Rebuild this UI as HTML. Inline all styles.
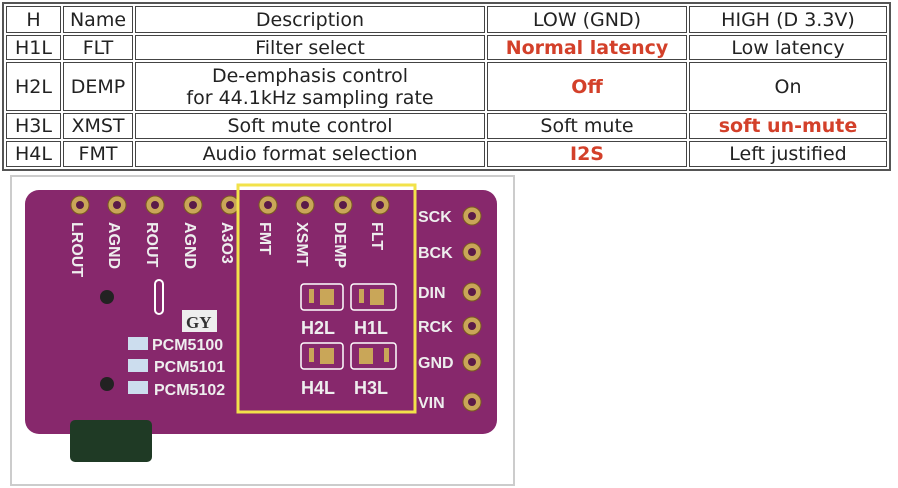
<!DOCTYPE html>
<html><head><meta charset="utf-8"><style>
body{margin:0;width:898px;height:488px;background:#fff;overflow:hidden;font-family:"DejaVu Sans","Liberation Sans",sans-serif;}
table{position:absolute;left:2px;top:2px;border-collapse:separate;border-spacing:2px;background:#fff;border:2px solid #555;}
td{border:1.5px solid #444;text-align:center;font-size:19px;color:#222;padding:0;line-height:22px;}
.r{color:#d3402a;font-weight:bold;}
.pcb{position:absolute;left:10px;top:175px;}
</style></head><body>
<table>
<tr style="height:27px"><td style="width:53px">H</td><td style="width:68px">Name</td><td style="width:348px">Description</td><td style="width:198px">LOW (GND)</td><td style="width:196px">HIGH (D 3.3V)</td></tr>
<tr style="height:25px"><td>H1L</td><td>FLT</td><td>Filter select</td><td class="r">Normal latency</td><td>Low latency</td></tr>
<tr style="height:49px"><td>H2L</td><td>DEMP</td><td>De-emphasis control<br>for 44.1kHz sampling rate</td><td class="r">Off</td><td>On</td></tr>
<tr style="height:26px"><td>H3L</td><td>XMST</td><td>Soft mute control</td><td>Soft mute</td><td class="r">soft un-mute</td></tr>
<tr style="height:26px"><td>H4L</td><td>FMT</td><td>Audio format selection</td><td class="r">I2S</td><td>Left justified</td></tr>
</table>
<svg class="pcb" width="506" height="312" viewBox="10 175 506 312">
<rect x="11" y="176" width="503" height="309" fill="#fff" stroke="#ccc" stroke-width="2"/>
<rect x="25" y="190" width="472" height="244" rx="14" fill="#87286c"/>
<rect x="70" y="420" width="82" height="42" rx="5" fill="#1f3a25"/>
<g fill="#c9a658" stroke="#7a5a20" stroke-width="1">
<circle cx="80" cy="205" r="9"/><circle cx="117" cy="205" r="9"/><circle cx="155" cy="205" r="9"/><circle cx="193" cy="205" r="9"/><circle cx="230" cy="205" r="9"/><circle cx="268" cy="205" r="9"/><circle cx="305" cy="205" r="9"/><circle cx="343" cy="205" r="9"/><circle cx="380" cy="205" r="9"/>
<circle cx="472" cy="216" r="9"/><circle cx="472" cy="252" r="9"/><circle cx="472" cy="292" r="9"/><circle cx="472" cy="326" r="9"/><circle cx="472" cy="362" r="9"/><circle cx="472" cy="402" r="9"/>
</g>
<g fill="#5a1a48"><circle cx="80" cy="205" r="4"/><circle cx="117" cy="205" r="4"/><circle cx="155" cy="205" r="4"/><circle cx="193" cy="205" r="4"/><circle cx="230" cy="205" r="4"/><circle cx="268" cy="205" r="4"/><circle cx="305" cy="205" r="4"/><circle cx="343" cy="205" r="4"/><circle cx="380" cy="205" r="4"/>
<circle cx="472" cy="216" r="4"/><circle cx="472" cy="252" r="4"/><circle cx="472" cy="292" r="4"/><circle cx="472" cy="326" r="4"/><circle cx="472" cy="362" r="4"/><circle cx="472" cy="402" r="4"/></g>
<circle cx="107" cy="297" r="7" fill="#222"/><circle cx="107" cy="384" r="7" fill="#222"/>
<rect x="155" y="280" width="8" height="34" rx="4" fill="none" stroke="#fff" stroke-width="2"/>
<g font-family="Liberation Sans,sans-serif" font-weight="bold" fill="#eee" font-size="16">
<text transform="translate(72,222) rotate(90)">LROUT</text>
<text transform="translate(109,222) rotate(90)">AGND</text>
<text transform="translate(147,222) rotate(90)">ROUT</text>
<text transform="translate(185,222) rotate(90)">AGND</text>
<text transform="translate(222,222) rotate(90)">A3O3</text>
<text transform="translate(260,222) rotate(90)">FMT</text>
<text transform="translate(297,222) rotate(90)">XSMT</text>
<text transform="translate(335,222) rotate(90)">DEMP</text>
<text transform="translate(372,222) rotate(90)">FLT</text>
<text x="418" y="222">SCK</text><text x="418" y="258">BCK</text><text x="418" y="298">DIN</text><text x="418" y="332">RCK</text><text x="418" y="368">GND</text><text x="418" y="408">VIN</text>
<text x="152" y="350">PCM5100</text><text x="154" y="372">PCM5101</text><text x="154" y="395">PCM5102</text>
<text x="301" y="334" font-size="18">H2L</text><text x="354" y="334" font-size="18">H1L</text>
<text x="301" y="394" font-size="18">H4L</text><text x="354" y="394" font-size="18">H3L</text>
</g>
<rect x="182" y="310" width="35" height="22" fill="#eee"/><text x="186" y="328" font-family="Liberation Serif,serif" font-weight="bold" font-size="17" fill="#333">GY</text>
<rect x="128" y="337" width="20" height="13" fill="#cde"/><rect x="128" y="359" width="20" height="13" fill="#cde"/><rect x="128" y="381" width="20" height="13" fill="#cde"/>
<g fill="none" stroke="#fff" stroke-width="1.5"><rect x="301" y="284" width="42" height="26" rx="3"/><rect x="351" y="284" width="45" height="26" rx="3"/><rect x="301" y="343" width="42" height="26" rx="3"/><rect x="351" y="343" width="45" height="26" rx="3"/></g>
<g fill="#c9a658"><rect x="309" y="289" width="5" height="14"/><rect x="320" y="289" width="14" height="16"/><rect x="359" y="289" width="5" height="14"/><rect x="370" y="289" width="14" height="16"/><rect x="309" y="348" width="5" height="14"/><rect x="320" y="348" width="14" height="16"/><rect x="359" y="348" width="14" height="16"/><rect x="384" y="348" width="5" height="14"/></g>
<rect x="238" y="185" width="177" height="227" fill="none" stroke="#f2e24a" stroke-width="3"/>
</svg>
</body></html>
